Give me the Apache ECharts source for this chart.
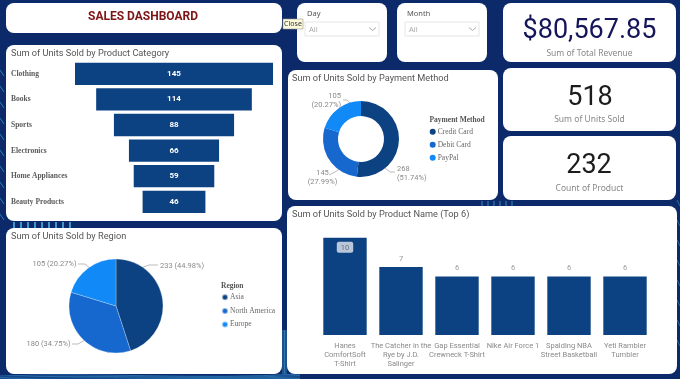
<!DOCTYPE html>
<html><head><meta charset="utf-8">
<script src="https://cdn.jsdelivr.net/npm/echarts@6/dist/echarts.min.js"></script>
<style>html,body{margin:0;padding:0;background:#0c2a6a;}#c{width:680px;height:379px;}</style>
</head><body><div id="c"></div>
<script>
// ---- data ----
const catNames = ['Clothing','Books','Sports','Electronics','Home Appliances','Beauty Products'];
const catUnits = [145,114,88,66,59,46];
const payNames = ['Credit Card','Debit Card','PayPal'];
const payUnits = [268,145,105];
const regionNames = ['Asia','North America','Europe'];
const regionUnits = [233,180,105];
const productNames = ['Hanes ComfortSoft T-Shirt','The Catcher in the Rye by J.D. Salinger','Gap Essential Crewneck T-Shirt','Nike Air Force 1','Spalding NBA Street Basketball','Yeti Rambler Tumbler'];
const productTickLabels = ['Hanes\nComfortSoft\nT-Shirt','The Catcher in the\nRye by J.D.\nSalinger','Gap Essential\nCrewneck T-Shirt','Nike Air Force 1','Spalding NBA\nStreet Basketball','Yeti Rambler\nTumbler'];
const productUnits = [10,7,6,6,6,6];
const kpiRevenue = '$80,567.85';
const kpiUnits = '518';
const kpiCount = '232';
const slicerNames = ['Day','Month'];

const DARK = '#0d4282', MID = '#1668cf', LIGHT = '#1189f7';
const TITLE_FONT = '9.2px Roboto, "Noto Sans", sans-serif';
const SERIF = '"Liberation Serif", "DejaVu Serif", serif';

// label placement (layout only)
const payLabelPos = [
  {x:397, y:173.5, align:'left',   line:[[385,168],[390,172],[395,172]]},
  {x:322.5, y:178, align:'center', line:[[341,168],[335,172],[329,175]]},
  {x:341, y:100.5, align:'right',  line:[[350,103],[347,100],[343,100]]}
];
const regionLabelPos = [
  {x:160, y:266.5, align:'left',  line:[[141,268],[149,265],[158,265]]},
  {x:70.5, y:344, align:'right',  line:[[85,340],[78,344],[72,344]]},
  {x:76.5, y:264, align:'right',  line:[[90,268],[85,264],[78,264]]}
];

const chart = echarts.init(document.getElementById('c'), null, {renderer:'canvas'});

function panel(x,y,w,h){ return {type:'rect', z:0, shape:{x,y,width:w,height:h,r:8}, style:{fill:'#ffffff'}}; }
function txt(x,y,text,font,fill,align,z){ return {type:'text', z:z||1, x, y, style:{text, font, fill, textAlign:align||'left', textVerticalAlign:'middle'}}; }

const deco = [];
for (let i=0;i<10;i++){ deco.push({type:'line', z:0, shape:{x1:0,y1:70+i*16,x2:4,y2:76+i*16}, style:{stroke:'#3aa0dc',lineWidth:1,opacity:0.7}}); }
for (let i=0;i<9;i++){ deco.push({type:'line', z:0, shape:{x1:14+i*7,y1:222,x2:14+i*7,y2:228}, style:{stroke:'#4fb3e6',lineWidth:2,opacity:0.8}}); }
for (let i=0;i<6;i++){ deco.push({type:'line', z:0, shape:{x1:482+i*6,y1:201,x2:482+i*6,y2:207}, style:{stroke:'#4fb3e6',lineWidth:1,opacity:0.7}}); }
for (let i=0;i<4;i++){ deco.push({type:'bezierCurve', z:0, shape:{x1:0,y1:376+i*1.5,x2:300,y2:374+i*1.5,cpx1:100,cpy1:372+i*2,cpx2:200,cpy2:380}, style:{stroke:'#3aa0dc',lineWidth:0.8,fill:null,opacity:0.7}}); }
for (let i=0;i<3;i++){ deco.push({type:'line', z:0, shape:{x1:283+i*1.5,y1:330,x2:283+i*1.5,y2:374}, style:{stroke:'#4fb3e6',lineWidth:0.8,opacity:0.7}}); }
for (let i=0;i<8;i++){ deco.push({type:'line', z:0, shape:{x1:677,y1:200+i*20,x2:680,y2:206+i*20}, style:{stroke:'#3aa0dc',lineWidth:1,opacity:0.6}}); }

const graphics = deco.concat([
  panel(6,3,276,30),
  txt(143,17,'SALES DASHBOARD','bold 12px Roboto, sans-serif','#7d1416','center'),
  panel(297,3,90,59),
  txt(307,14,slicerNames[0],'7.5px "Noto Sans", sans-serif','#555'),
  {type:'rect', z:1, shape:{x:305,y:22,width:74,height:14}, style:{fill:'#fff',stroke:'#e6e6e6',lineWidth:1}},
  txt(309,29.5,'All','7.5px "Noto Sans", sans-serif','#aaa'),
  {type:'polyline', z:1, shape:{points:[[369,27.5],[372.5,30.5],[376,27.5]]}, style:{stroke:'#aaa',lineWidth:1,fill:null}},
  panel(397,3,90,59),
  txt(407,14,slicerNames[1],'7.5px "Noto Sans", sans-serif','#555'),
  {type:'rect', z:1, shape:{x:405,y:22,width:74,height:14}, style:{fill:'#fff',stroke:'#e6e6e6',lineWidth:1}},
  txt(409,29.5,'All','7.5px "Noto Sans", sans-serif','#aaa'),
  {type:'polyline', z:1, shape:{points:[[469,27.5],[472.5,30.5],[476,27.5]]}, style:{stroke:'#aaa',lineWidth:1,fill:null}},
  {type:'rect', z:5, shape:{x:283,y:19,width:20,height:10}, style:{fill:'#fbf8dc',stroke:'#9a9a8a',lineWidth:0.6}},
  txt(293,24,'Close','7px "Noto Sans", sans-serif','#333','center',6),
  panel(503,3,173,59),
  txt(589.5,31,kpiRevenue,'27px Roboto, sans-serif','#15155a','center'),
  txt(589.5,53.5,'Sum of Total Revenue','8.5px "Noto Sans", sans-serif','#888','center'),
  panel(503,68,173,63),
  txt(590,98,kpiUnits,'27px Roboto, sans-serif','#1c1c1c','center'),
  txt(589.5,120,'Sum of Units Sold','8.5px "Noto Sans", sans-serif','#888','center'),
  panel(503,136,173,64),
  txt(589,166,kpiCount,'27px Roboto, sans-serif','#1c1c1c','center'),
  txt(589.5,188.5,'Count of Product','8.5px "Noto Sans", sans-serif','#888','center'),
  panel(6,45,276,176),
  txt(11,53.5,'Sum of Units Sold by Product Category',TITLE_FONT,'#555'),
  panel(288,70,210,130),
  txt(292,78.5,'Sum of Units Sold by Payment Method',TITLE_FONT,'#555'),
  txt(429.5,120,'Payment Method','bold 7.5px '+SERIF,'#555'),
  panel(6,228,276,146),
  txt(11,237,'Sum of Units Sold by Region',TITLE_FONT,'#555'),
  txt(221,286.5,'Region','bold 7.5px '+SERIF,'#555'),
  panel(287,206,390,168),
  txt(292,215,'Sum of Units Sold by Product Name (Top 6)',TITLE_FONT,'#555')
]);

const catMax = Math.max(...catUnits);
const prodData = productUnits.map((v,i)=> i===0 ? {value:v, label:{position:'insideTop', distance:4, backgroundColor:'rgba(205,214,228,0.9)', borderRadius:2, padding:[2,4,1,4], color:'#6a7080'}} : v);

function layoutFrom(table){
  return function(p){
    const t = table[p.dataIndex];
    return {x:t.x, y:t.y, align:t.align, verticalAlign:'middle', labelLinePoints:t.line};
  };
}

const option = {
  backgroundColor:'#0c2a6a',
  animation:false,
  graphic: graphics,
  grid:[
    {left:75, top:61, width:198, height:153.6, containLabel:false},
    {left:317, top:237.7, width:336, height:97.3, containLabel:false}
  ],
  xAxis:[
    {gridIndex:0, type:'value', min:0, max:catMax, show:false},
    {gridIndex:1, type:'category', data:productTickLabels, axisLine:{show:false}, axisTick:{show:false},
     axisLabel:{interval:0, hideOverlap:false, margin:7, fontSize:7.5, lineHeight:8.7, verticalAlign:'top', color:'#8a8a8a', fontFamily:'Roboto, sans-serif'}}
  ],
  yAxis:[
    {gridIndex:0, type:'category', data:catNames, inverse:true, axisLine:{show:false}, axisTick:{show:false},
     axisLabel:{align:'left', margin:64, fontSize:7.5, fontWeight:'bold', color:'#5a5a5a', fontFamily:SERIF}},
    {gridIndex:1, type:'value', min:0, max:function(v){return v.max;}, show:false}
  ],
  legend:[
    {orient:'vertical', left:429.7, top:127.3, padding:0, data:payNames, icon:'circle', itemWidth:6, itemHeight:6, itemGap:4,
     textStyle:{fontSize:7.5, lineHeight:9, color:'#666', fontFamily:SERIF, padding:[0,0,0,-3]}},
    {orient:'vertical', left:221, top:292.8, padding:0, data:regionNames, icon:'circle', itemWidth:6, itemHeight:6, itemGap:4.6,
     textStyle:{fontSize:7.5, lineHeight:9, color:'#666', fontFamily:SERIF, padding:[0,0,0,-3]}}
  ],
  series:[
    {type:'bar', xAxisIndex:0, yAxisIndex:0, stack:'f', silent:true, barCategoryGap:'13%',
     data:catUnits.map(v=>(catMax-v)/2), itemStyle:{color:'transparent'}},
    {type:'bar', xAxisIndex:0, yAxisIndex:0, stack:'f', barCategoryGap:'13%', data:catUnits,
     itemStyle:{color:DARK},
     label:{show:true, position:'inside', color:'#fff', fontSize:8, fontWeight:'bold', fontFamily:'Roboto, sans-serif'}},
    {type:'bar', xAxisIndex:1, yAxisIndex:1, barCategoryGap:'22.5%', data:prodData,
     itemStyle:{color:DARK},
     label:{show:true, position:'top', distance:4, color:'#999', fontSize:7.5, fontFamily:'Roboto, sans-serif'}},
    {type:'pie', center:[361,139], radius:[23,38], startAngle:90, clockwise:true,
     data:payNames.map((n,i)=>({name:n, value:payUnits[i]})), color:[DARK,MID,LIGHT],
     label:{formatter:'{c}\n({d}%)', overflow:'none', color:'#8a8a8a', fontSize:7.5, lineHeight:9, fontFamily:'Roboto, sans-serif'},
     labelLine:{show:true, lineStyle:{color:'#aaa', width:0.8}},
     labelLayout: layoutFrom(payLabelPos)},
    {type:'pie', center:[116,306], radius:[0,47], startAngle:90, clockwise:true,
     data:regionNames.map((n,i)=>({name:n, value:regionUnits[i]})), color:[DARK,MID,LIGHT],
     label:{formatter:'{c} ({d}%)', overflow:'none', width:80, color:'#8a8a8a', fontSize:7.5, fontFamily:'Roboto, sans-serif'},
     labelLine:{show:true, lineStyle:{color:'#aaa', width:0.8}},
     labelLayout: layoutFrom(regionLabelPos),
     itemStyle:{borderColor:'rgba(255,255,255,0.5)', borderWidth:0.5}}
  ]
};
chart.setOption(option);
</script></body></html>
